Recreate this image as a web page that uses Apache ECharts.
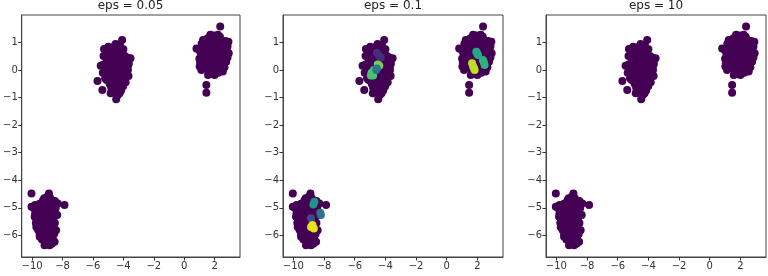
<!DOCTYPE html>
<html><head><meta charset="utf-8">
<script src="https://cdn.jsdelivr.net/npm/echarts@6/dist/echarts.min.js"></script>
<style>html,body{margin:0;padding:0;background:#fff}#c{width:768px;height:276px}</style>
</head><body><div id="c"></div>
<script>
const titles = ['eps = 0.05', 'eps = 0.1', 'eps = 10'];
const xTicks = [-10, -8, -6, -4, -2, 0, 2];
const yTicks = [-6, -5, -4, -3, -2, -1, 0, 1];

const clusterA = [[-4.08,1.08],[-5.70,-0.40],[-5.38,-0.73],[-4.47,-1.06],[-4.83,-0.85],[-4.36,-0.91],[-5.27,0.76],[-4.99,0.84],[-4.51,0.94],[-3.53,0.42],[-5.49,0.15],[-3.64,0.22],[-3.66,-0.22],[-4.01,-0.58],[-3.86,-0.28],[-5.10,-0.37],[-4.62,-0.73],
[-4.9,0.6],[-4.7,0.7],[-4.3,0.75],[-4.1,0.6],[-3.9,0.5],[-4.5,0.5],[-4.8,0.4],[-5.1,0.3],[-4.6,0.3],[-4.2,0.35],[-3.8,0.3],[-5.2,0.05],[-4.9,0.1],[-4.5,0.15],[-4.2,0.1],[-3.9,0.05],[-5.0,-0.15],[-4.7,-0.1],[-4.4,-0.05],[-4.1,-0.15],[-3.8,-0.05],[-4.8,-0.35],[-4.5,-0.3],[-4.2,-0.4],[-4.0,-0.3],[-4.6,-0.55],[-4.3,-0.6],[-4.15,-0.75],[-4.4,0.9],[-4.65,0.05],[-4.35,0.45],[-5.3,0.5],[-3.7,0.0],
[-5.05,0.65],[-4.6,0.85],[-4.2,0.85],[-4.0,0.75],[-4.75,0.55],[-4.3,0.6],[-3.75,0.45],[-5.0,0.45],[-4.4,0.3],[-4.0,0.4],[-5.3,0.2],[-5.0,0.25],[-4.75,0.2],[-4.3,0.25],[-4.05,0.2],[-3.7,0.15],[-5.35,-0.1],[-4.85,0.0],[-4.3,-0.1],[-4.0,-0.05],[-3.75,-0.15],[-5.2,-0.3],[-4.9,-0.5],[-4.65,-0.35],[-4.35,-0.25],[-4.1,-0.45],[-3.85,-0.45],[-4.45,-0.45],[-4.8,-0.65],[-4.45,-0.75],[-4.25,-0.85],[-4.05,-0.6]];

const clusterB = [[2.37,1.57],[1.46,-0.55],[1.46,-0.83],[0.81,0.78],[2.91,1.02],[2.93,0.60],[1.02,0.12],[1.13,0.0],[1.24,1.08],[1.72,1.27],[2.22,1.27],[2.0,-0.18],[1.57,-0.18],[2.54,-0.06],[2.76,0.30],
[1.5,1.0],[1.9,1.1],[2.4,1.05],[2.7,0.85],[1.2,0.8],[1.6,0.8],[2.0,0.85],[2.4,0.8],[1.1,0.55],[1.5,0.55],[1.9,0.6],[2.3,0.6],[2.6,0.55],[1.2,0.3],[1.6,0.35],[2.0,0.35],[2.4,0.35],[1.4,0.1],[1.8,0.1],[2.2,0.1],[2.5,0.15],[1.7,-0.05],[2.25,-0.1],[1.3,0.45],[2.8,0.7],[2.1,1.2],[1.0,0.4],
[1.35,0.9],[1.75,0.95],[2.15,0.95],[2.55,0.95],[2.85,0.85],[1.0,0.7],[1.4,0.7],[1.8,0.75],[2.2,0.7],[2.6,0.7],[1.05,0.25],[1.35,0.6],[1.7,0.5],[2.1,0.5],[2.5,0.45],[2.85,0.45],[1.45,0.25],[1.8,0.25],[2.2,0.25],[2.6,0.3],[1.25,0.15],[1.6,0.0],[1.95,0.0],[2.35,0.0],[2.65,0.1],[1.85,-0.15],[1.55,1.15],[1.95,1.25],[2.35,1.2],[1.15,0.95],[2.7,1.05]];

const clusterC = [[-10.04,-4.48],[-8.89,-4.48],[-7.87,-4.90],[-10.04,-4.96],[-9.18,-6.35],[-8.85,-6.35],[-8.52,-6.23],[-9.72,-5.69],[-9.83,-5.32],[-8.42,-5.81],[-8.35,-5.26],[-8.31,-4.84],[-9.5,-6.05],[-9.28,-4.72],
[-9.8,-4.9],[-9.5,-4.85],[-9.0,-4.8],[-8.6,-4.9],[-9.7,-5.1],[-9.3,-5.1],[-8.9,-5.05],[-8.6,-5.1],[-9.9,-5.0],[-9.6,-5.3],[-9.2,-5.3],[-8.8,-5.3],[-9.5,-5.5],[-9.1,-5.5],[-8.7,-5.5],[-9.4,-5.7],[-9.0,-5.7],[-8.6,-5.65],[-9.3,-5.9],[-8.9,-5.9],[-8.55,-5.95],[-9.2,-6.1],[-8.8,-6.15],[-9.0,-6.3],[-9.6,-5.8],[-9.0,-4.6],[-8.5,-4.75],
[-9.65,-4.95],[-9.2,-4.9],[-8.75,-4.95],[-9.45,-5.05],[-9.05,-5.15],[-8.5,-5.2],[-9.8,-5.2],[-9.4,-5.25],[-8.95,-5.4],[-8.6,-5.4],[-9.7,-5.45],[-9.3,-5.45],[-8.5,-5.55],[-9.55,-5.6],[-9.15,-5.65],[-8.8,-5.7],[-8.5,-5.8],[-9.5,-5.95],[-9.1,-5.85],[-8.75,-5.85],[-9.35,-6.15],[-8.95,-6.05],[-8.65,-6.1],[-9.1,-6.25],[-8.7,-6.3],[-9.2,-4.65],[-8.8,-4.65],[-8.45,-5.0],[-9.75,-5.55]];

// eps = 0.1 : small clusters found (non-noise labels)
const eps01Labels = [
  {color:'#472d7b', pts:[[-4.55,0.62],[-4.4,0.5],[-4.3,0.45]]},
  {color:'#7ad151', pts:[[-4.5,0.2],[-4.4,0.15]]},
  {color:'#4ac16d', pts:[[-4.9,-0.1],[-4.8,-0.2],[-4.95,-0.2],[-4.75,0.0]]},
  {color:'#2a788e', pts:[[-4.6,0.0],[-4.55,0.05]]},
  {color:'#22a884', pts:[[1.93,0.66],[2.04,0.54],[1.98,0.6]]},
  {color:'#2db27d', pts:[[2.36,0.36],[2.47,0.18],[2.42,0.28]]},
  {color:'#bddf26', pts:[[1.65,0.24],[1.82,0.0],[1.72,0.12],[1.78,0.06]]},
  {color:'#21918c', pts:[[-8.63,-4.78],[-8.7,-4.88]]},
  {color:'#2c728e', pts:[[-8.21,-5.26],[-8.25,-5.18]]},
  {color:'#3e4989', pts:[[-8.85,-5.38]]},
  {color:'#e5e419', pts:[[-8.85,-5.69],[-8.67,-5.75],[-8.76,-5.62]]}
];

const allPts = clusterA.concat(clusterB, clusterC);
const XMIN = -10.68, XMAX = 3.67, YMIN = -6.78, YMAX = 1.99;
const grids = [{left:21,width:219},{left:283,width:220},{left:546,width:220}];
const fmt = v => v < 0 ? '\u2212' + Math.abs(v) : String(v);
const font = 'DejaVu Sans';
const axisCol = '#333';

const option = {
  animation:false,
  title: grids.map((g,i)=>({text:titles[i], left:g.left+g.width/2, top:0, textAlign:'center', padding:0,
    textStyle:{fontSize:12, fontWeight:'normal', color:'#222', fontFamily:font}})),
  grid: grids.map(g=>({left:g.left, width:g.width, top:15, height:242, show:true, borderColor:'#444', borderWidth:1, backgroundColor:'#fff'})),
  xAxis: grids.map((g,i)=>({type:'value', gridIndex:i, min:XMIN, max:XMAX,
    axisLine:{show:true, onZero:false, lineStyle:{color:'#444'}},
    axisTick:{show:true, customValues:xTicks, length:3.5, lineStyle:{color:axisCol}},
    axisLabel:{customValues:xTicks, formatter:fmt, fontSize:10, color:axisCol, fontFamily:font, margin:4},
    splitLine:{show:false}})),
  yAxis: grids.map((g,i)=>({type:'value', gridIndex:i, min:YMIN, max:YMAX,
    axisLine:{show:true, onZero:false, lineStyle:{color:'#444'}},
    axisTick:{show:true, customValues:yTicks, length:3.5, lineStyle:{color:axisCol}},
    axisLabel:{customValues:yTicks, formatter:fmt, fontSize:10, color:axisCol, fontFamily:font, margin:4},
    splitLine:{show:false}})),
  series: []
};
for (let i = 0; i < 3; i++) {
  option.series.push({type:'scatter', xAxisIndex:i, yAxisIndex:i, data:allPts, symbolSize:8,
    itemStyle:{color:'#440154', opacity:1}, silent:true});
}
eps01Labels.forEach(l => {
  option.series.push({type:'scatter', xAxisIndex:1, yAxisIndex:1, data:l.pts, symbolSize:8, z:3,
    itemStyle:{color:l.color, opacity:1}, silent:true});
});
echarts.init(document.getElementById('c'), null, {renderer:'canvas'}).setOption(option);
</script></body></html>
